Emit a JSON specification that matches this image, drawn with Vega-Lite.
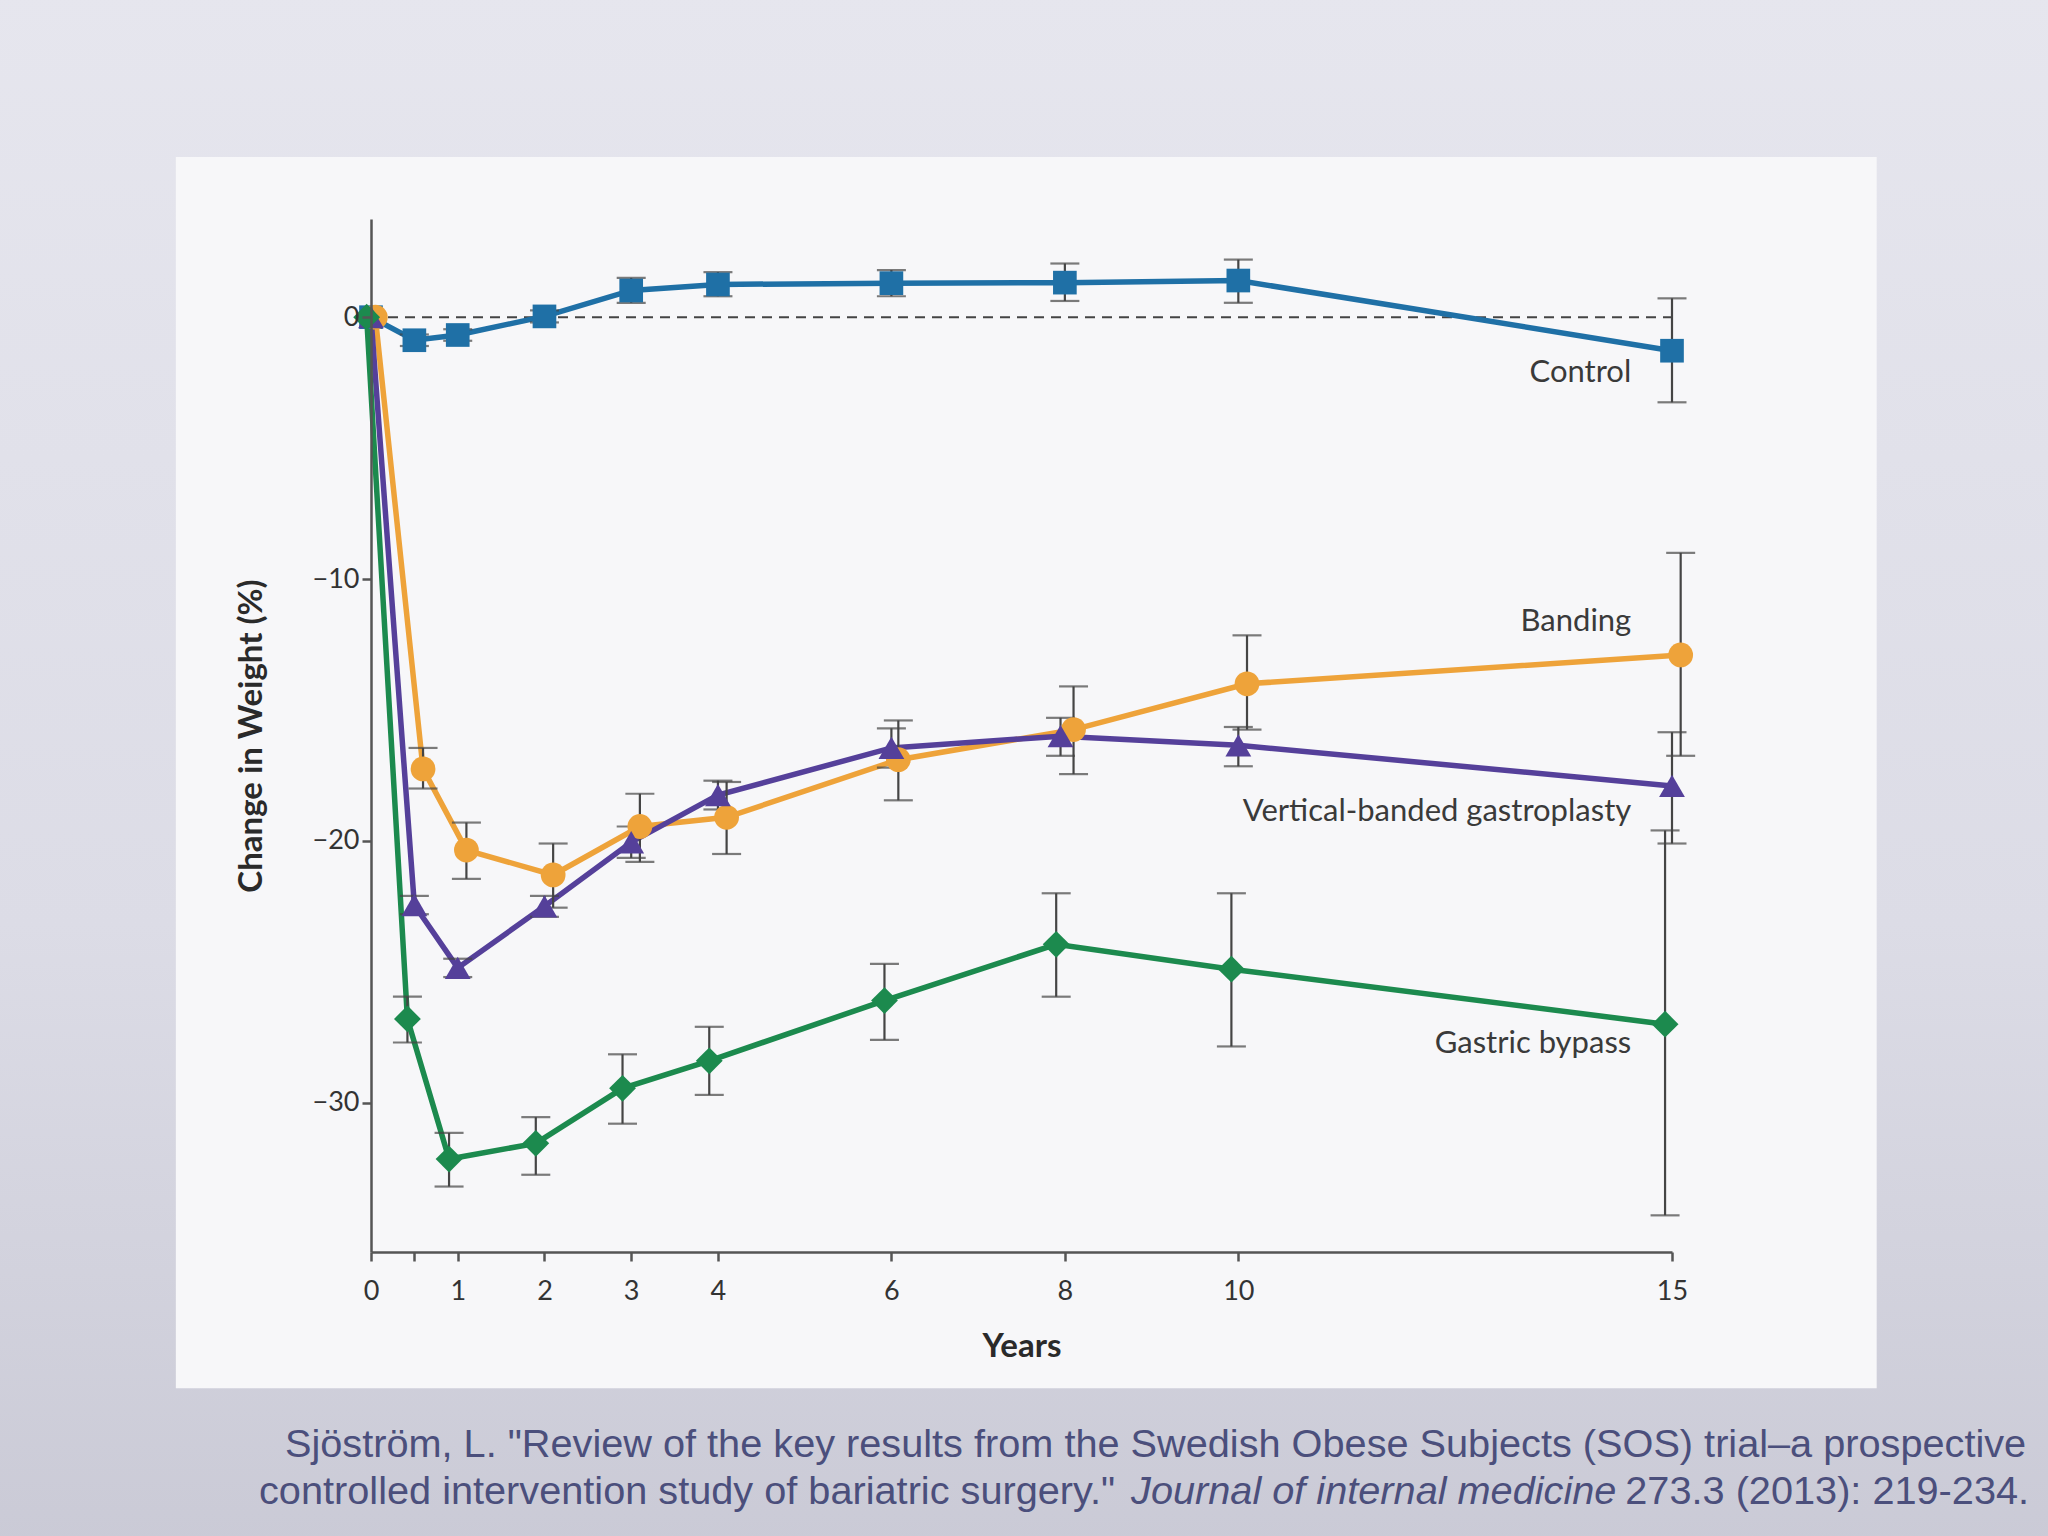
{
  "$schema": "https://vega.github.io/schema/vega-lite/v6.json",
  "width": 1301,
  "height": 1033,
  "autosize": {"type": "none"},
  "padding": {"left": 371, "top": 219, "right": 376, "bottom": 284},
  "background": "#dcdce5",
  "config": {
    "view": {"stroke": null},
    "axis": {"domainColor": "#555555", "domainWidth": 2.5, "tickColor": "#555555", "tickWidth": 2.5, "labelFont": "Lato", "labelColor": "#333333", "titleFont": "Lato", "titleColor": "#2a2a2a", "grid": false}
  },
  "datasets": {
    "one": [{}],
    "pts": [
      {"series": "Control", "x": 0, "y": 0},
      {"series": "Control", "x": 0.5, "y": -0.88, "lo": -1.1, "hi": -0.66},
      {"series": "Control", "x": 1, "y": -0.68, "lo": -0.9, "hi": -0.46},
      {"series": "Control", "x": 2, "y": 0.03, "lo": -0.2, "hi": 0.26},
      {"series": "Control", "x": 3, "y": 1.02, "lo": 0.55, "hi": 1.5},
      {"series": "Control", "x": 4, "y": 1.25, "lo": 0.8, "hi": 1.72},
      {"series": "Control", "x": 6, "y": 1.3, "lo": 0.8, "hi": 1.8},
      {"series": "Control", "x": 8, "y": 1.32, "lo": 0.62, "hi": 2.05},
      {"series": "Control", "x": 10, "y": 1.4, "lo": 0.55, "hi": 2.2},
      {"series": "Control", "x": 15, "y": -1.28, "lo": -3.25, "hi": 0.72},
      {"series": "Banding", "x": 0.05, "y": 0},
      {"series": "Banding", "x": 0.6, "y": -17.25, "lo": -18.0, "hi": -16.45},
      {"series": "Banding", "x": 1.1, "y": -20.35, "lo": -21.45, "hi": -19.3},
      {"series": "Banding", "x": 2.1, "y": -21.3, "lo": -22.55, "hi": -20.1},
      {"series": "Banding", "x": 3.1, "y": -19.45, "lo": -20.8, "hi": -18.2},
      {"series": "Banding", "x": 4.1, "y": -19.1, "lo": -20.5, "hi": -17.75},
      {"series": "Banding", "x": 6.08, "y": -16.9, "lo": -18.45, "hi": -15.4},
      {"series": "Banding", "x": 8.1, "y": -15.75, "lo": -17.45, "hi": -14.1},
      {"series": "Banding", "x": 10.1, "y": -14.0, "lo": -15.75, "hi": -12.15},
      {"series": "Banding", "x": 15.1, "y": -12.9, "lo": -16.75, "hi": -9.0},
      {"series": "VBG", "x": 0, "y": 0},
      {"series": "VBG", "x": 0.5, "y": -22.45, "lo": -22.8, "hi": -22.1},
      {"series": "VBG", "x": 1.0, "y": -24.85, "lo": -25.2, "hi": -24.5},
      {"series": "VBG", "x": 2.0, "y": -22.5, "lo": -22.9, "hi": -22.1},
      {"series": "VBG", "x": 3.0, "y": -20.05, "lo": -20.65, "hi": -19.45},
      {"series": "VBG", "x": 4.0, "y": -18.25, "lo": -18.8, "hi": -17.7},
      {"series": "VBG", "x": 6.0, "y": -16.45, "lo": -17.2, "hi": -15.7},
      {"series": "VBG", "x": 7.95, "y": -16.0, "lo": -16.75, "hi": -15.3},
      {"series": "VBG", "x": 10.0, "y": -16.35, "lo": -17.15, "hi": -15.65},
      {"series": "VBG", "x": 15.0, "y": -17.9, "lo": -20.1, "hi": -15.85},
      {"series": "GB", "x": -0.05, "y": 0},
      {"series": "GB", "x": 0.42, "y": -26.8, "lo": -27.7, "hi": -25.95},
      {"series": "GB", "x": 0.9, "y": -32.15, "lo": -33.2, "hi": -31.15},
      {"series": "GB", "x": 1.9, "y": -31.55, "lo": -32.75, "hi": -30.55},
      {"series": "GB", "x": 2.9, "y": -29.45, "lo": -30.8, "hi": -28.15},
      {"series": "GB", "x": 3.9, "y": -28.4, "lo": -29.7, "hi": -27.1},
      {"series": "GB", "x": 5.92, "y": -26.1, "lo": -27.6, "hi": -24.7},
      {"series": "GB", "x": 7.9, "y": -23.95, "lo": -25.95, "hi": -22.0},
      {"series": "GB", "x": 9.92, "y": -24.9, "lo": -27.85, "hi": -22.0},
      {"series": "GB", "x": 14.92, "y": -27.0, "lo": -34.3, "hi": -19.6}
    ],
    "labels": [
      {"label": "Control", "x": 14.53, "y": -2.15},
      {"label": "Banding", "x": 14.53, "y": -11.63},
      {"label": "Vertical-banded gastroplasty", "x": 14.53, "y": -18.88},
      {"label": "Gastric bypass", "x": 14.53, "y": -27.74}
    ]
  },
  "layer": [
    {
      "data": {"name": "one"},
      "mark": {"type": "rect", "clip": false, "fill": {"gradient": "linear", "x1": 0, "y1": 0, "x2": 0, "y2": 1, "stops": [{"offset": 0, "color": "#e6e6ee"}, {"offset": 0.6, "color": "#dcdce6"}, {"offset": 1, "color": "#cacad6"}]}},
      "encoding": {
        "x": {"datum": -4.6, "type": "quantitative", "scale": {"domain": [0, 15], "nice": false, "zero": false}},
        "x2": {"datum": 19.7},
        "y": {"datum": 12.5, "type": "quantitative", "scale": {"domain": [-35.7, 3.75], "nice": false, "zero": false}},
        "y2": {"datum": -47}
      }
    },
    {
      "data": {"name": "one"},
      "mark": {"type": "rect", "clip": false, "fill": "#f7f7f9"},
      "encoding": {
        "x": {"datum": -2.25, "type": "quantitative", "scale": {"domain": [0, 15], "nice": false, "zero": false}},
        "x2": {"datum": 17.36},
        "y": {"datum": 6.12, "type": "quantitative", "scale": {"domain": [-35.7, 3.75], "nice": false, "zero": false}},
        "y2": {"datum": -40.9}
      }
    },
    {
      "data": {"name": "one"},
      "mark": {"type": "rule", "strokeDash": [10, 7], "strokeWidth": 2, "color": "#444444"},
      "encoding": {
        "x": {"datum": 0, "type": "quantitative", "scale": {"domain": [0, 15], "nice": false, "zero": false}},
        "x2": {"datum": 15},
        "y": {"datum": 0, "type": "quantitative", "scale": {"domain": [-35.7, 3.75], "nice": false, "zero": false}}
      }
    },
    {
      "data": {"name": "pts"},
      "mark": {"type": "line", "strokeWidth": 5.5},
      "encoding": {
        "x": {"field": "x", "type": "quantitative", "scale": {"domain": [0, 15], "nice": false, "zero": false},
          "axis": {"zindex": 1, "values": [0, 0.5, 1, 2, 3, 4, 6, 8, 10, 15], "labelExpr": "datum.value == 0.5 ? '' : datum.label", "labelFlush": false, "title": "Years", "titleFontSize": 33, "titleFontWeight": "bold", "titlePadding": 26, "labelFontSize": 27, "labelPadding": 17, "tickSize": 9, "format": "d"}},
        "y": {"field": "y", "type": "quantitative", "scale": {"domain": [-35.7, 3.75], "nice": false, "zero": false},
          "axis": {"zindex": 1, "values": [0, -10, -20, -30], "title": "Change in Weight (%)", "titleFontSize": 33, "titleFontWeight": "bold", "titlePadding": 44, "labelFontSize": 27, "labelPadding": 3, "tickSize": 9, "labelExpr": "datum.value < 0 ? '\u2212' + abs(datum.value) : datum.label"}},
        "color": {"field": "series", "type": "nominal", "scale": {"domain": ["Control", "Banding", "VBG", "GB"], "range": ["#1f70a6", "#eea33a", "#55409a", "#1c8a4e"]}, "legend": null},
        "order": {"field": "x", "type": "quantitative"}
      }
    },
    {
      "data": {"name": "pts"},
      "transform": [{"filter": "isValid(datum.lo)"}],
      "mark": {"type": "rule", "strokeWidth": 2.2, "color": "#454545"},
      "encoding": {
        "x": {"field": "x", "type": "quantitative", "scale": {"domain": [0, 15], "nice": false, "zero": false}},
        "y": {"field": "lo", "type": "quantitative", "scale": {"domain": [-35.7, 3.75], "nice": false, "zero": false}},
        "y2": {"field": "hi"}
      }
    },
    {
      "data": {"name": "pts"},
      "transform": [{"filter": "isValid(datum.lo)"}],
      "mark": {"type": "tick", "orient": "horizontal", "size": 29, "thickness": 2.2, "color": "#454545"},
      "encoding": {
        "x": {"field": "x", "type": "quantitative", "scale": {"domain": [0, 15], "nice": false, "zero": false}},
        "y": {"field": "lo", "type": "quantitative", "scale": {"domain": [-35.7, 3.75], "nice": false, "zero": false}}
      }
    },
    {
      "data": {"name": "pts"},
      "transform": [{"filter": "isValid(datum.hi)"}],
      "mark": {"type": "tick", "orient": "horizontal", "size": 29, "thickness": 2.2, "color": "#454545"},
      "encoding": {
        "x": {"field": "x", "type": "quantitative", "scale": {"domain": [0, 15], "nice": false, "zero": false}},
        "y": {"field": "hi", "type": "quantitative", "scale": {"domain": [-35.7, 3.75], "nice": false, "zero": false}}
      }
    },
    {
      "data": {"name": "pts"},
      "mark": {"type": "point", "filled": true, "opacity": 1},
      "encoding": {
        "x": {"field": "x", "type": "quantitative", "scale": {"domain": [0, 15], "nice": false, "zero": false}},
        "y": {"field": "y", "type": "quantitative", "scale": {"domain": [-35.7, 3.75], "nice": false, "zero": false}},
        "color": {"field": "series", "type": "nominal", "scale": {"domain": ["Control", "Banding", "VBG", "GB"], "range": ["#1a72bf", "#f29d2e", "#553d9c", "#1b8a4c"]}, "legend": null},
        "shape": {"field": "series", "type": "nominal", "scale": {"domain": ["Control", "Banding", "VBG", "GB"], "range": ["square", "circle", "triangle-up", "diamond"]}, "legend": null},
        "size": {"field": "series", "type": "nominal", "scale": {"domain": ["Control", "Banding", "VBG", "GB"], "range": [560, 720, 680, 880]}, "legend": null}
      }
    },
    {
      "data": {"name": "labels"},
      "mark": {"type": "text", "align": "right", "baseline": "middle", "font": "Lato", "fontSize": 31, "color": "#3a3a3a"},
      "encoding": {
        "x": {"field": "x", "type": "quantitative", "scale": {"domain": [0, 15], "nice": false, "zero": false}},
        "y": {"field": "y", "type": "quantitative", "scale": {"domain": [-35.7, 3.75], "nice": false, "zero": false}},
        "text": {"field": "label"}
      }
    },
    {
      "data": {"name": "one"},
      "mark": {"type": "text", "align": "left", "baseline": "alphabetic", "font": "Liberation Sans", "fontSize": 39.7, "color": "#4b4f7c", "clip": false},
      "encoding": {
        "x": {"datum": -0.992, "type": "quantitative", "scale": {"domain": [0, 15], "nice": false, "zero": false}},
        "y": {"datum": -43.54, "type": "quantitative", "scale": {"domain": [-35.7, 3.75], "nice": false, "zero": false}},
        "text": {"value": "Sjöström, L. \"Review of the key results from the Swedish Obese Subjects (SOS) trial–a prospective"}
      }
    },
    {
      "data": {"name": "one"},
      "mark": {"type": "text", "align": "left", "baseline": "alphabetic", "font": "Liberation Sans", "fontSize": 39.7, "color": "#4b4f7c", "clip": false},
      "encoding": {
        "x": {"datum": -1.291, "type": "quantitative", "scale": {"domain": [0, 15], "nice": false, "zero": false}},
        "y": {"datum": -45.34, "type": "quantitative", "scale": {"domain": [-35.7, 3.75], "nice": false, "zero": false}},
        "text": {"value": "controlled intervention study of bariatric surgery.\""}
      }
    },
    {
      "data": {"name": "one"},
      "mark": {"type": "text", "align": "left", "baseline": "alphabetic", "font": "Liberation Sans", "fontStyle": "italic", "fontSize": 39.7, "color": "#4b4f7c", "clip": false},
      "encoding": {
        "x": {"datum": 8.763, "type": "quantitative", "scale": {"domain": [0, 15], "nice": false, "zero": false}},
        "y": {"datum": -45.34, "type": "quantitative", "scale": {"domain": [-35.7, 3.75], "nice": false, "zero": false}},
        "text": {"value": "Journal of internal medicine"}
      }
    },
    {
      "data": {"name": "one"},
      "mark": {"type": "text", "align": "right", "baseline": "alphabetic", "font": "Liberation Sans", "fontSize": 39.7, "color": "#4b4f7c", "clip": false},
      "encoding": {
        "x": {"datum": 19.117, "type": "quantitative", "scale": {"domain": [0, 15], "nice": false, "zero": false}},
        "y": {"datum": -45.34, "type": "quantitative", "scale": {"domain": [-35.7, 3.75], "nice": false, "zero": false}},
        "text": {"value": "273.3 (2013): 219-234."}
      }
    }
  ]
}
